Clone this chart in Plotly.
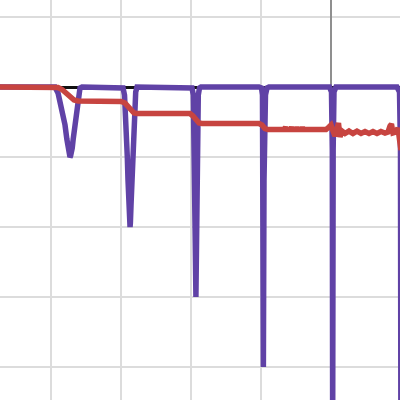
import plotly.graph_objects as go

# purple curve: flat at 0 with dips of growing depth
purple_x = [-4.729, -3.943, -3.9, -3.847, -3.8, -3.774, -3.760, -3.749, -3.737, -3.729,
            -3.721, -3.709, -3.697, -3.683, -3.657, -3.633, -3.607, -3.586, -3.557,
            -3.0, -2.971, -2.95, -2.936, -2.921, -2.910, -2.9, -2.886, -2.876, -2.871, -2.866,
            -2.857, -2.843, -2.829, -2.814, -2.8, -2.790, -2.771,
            -2.014, -1.986, -1.967, -1.957, -1.947, -1.940, -1.930, -1.921, -1.914,
            -1.906, -1.896, -1.879, -1.857,
            -1.029, -0.993, -0.979, -0.971, -0.966, -0.957, -0.936, -0.914, -0.886,
            -0.021, 0.007, 0.019, 0.024, 0.031, 0.043, 0.071,
            0.943, 0.979, 0.993, 1.0, 1.014]
purple_y = [0, 0, -0.086, -0.3, -0.543, -0.743, -0.871, -0.943, -0.986, -1.0,
            -0.986, -0.943, -0.871, -0.743, -0.543, -0.3, -0.114, -0.014, 0,
            0, -0.014, -0.114, -0.329, -0.614, -1.0, -1.329, -1.686, -1.94, -2.0, -1.94,
            -1.686, -1.329, -1.0, -0.614, -0.257, -0.071, 0,
            0, -0.014, -0.114, -0.614, -1.329, -2.186, -3.0, -2.186, -1.329,
            -0.614, -0.114, -0.014, 0,
            0, -0.014, -0.114, -1.329, -4.0, -1.329, -0.114, -0.014, 0,
            0, -0.071, -0.9, -5.0, -0.9, -0.071, 0,
            0, -0.071, -0.9, -6.0, -0.9]

# red curve: descending steps, noisy on the right
red_x = [-4.729, -3.943, -3.9, -3.843, -3.786, -3.729, -3.671, -3.614,
         -3.0, -2.943, -2.9, -2.857, -2.814, -2.771,
         -2.014, -1.971, -1.929, -1.886, -1.843,
         -1.029, -0.986, -0.943, -0.9,
         -0.671, -0.650, -0.636, -0.579, -0.564, -0.550, -0.500, -0.486, -0.471, -0.421, -0.407, -0.393,
         -0.071, -0.029, 0.0, 0.029, 0.057, 0.086, 0.107, 0.129, 0.157,
         0.2, 0.257, 0.314, 0.371, 0.429, 0.486, 0.543, 0.6, 0.657, 0.714, 0.771,
         0.814, 0.843, 0.864, 0.886, 0.929, 0.957, 0.979, 1.0]
red_y = [0, 0, -0.007, -0.036, -0.086, -0.143, -0.186, -0.2,
         -0.207, -0.229, -0.286, -0.343, -0.371, -0.379,
         -0.379, -0.414, -0.471, -0.514, -0.521,
         -0.521, -0.543, -0.593, -0.607,
         -0.607, -0.575, -0.607, -0.607, -0.575, -0.607, -0.607, -0.578, -0.607, -0.607, -0.578, -0.607,
         -0.607, -0.571, -0.543, -0.629, -0.7, -0.6, -0.514, -0.714, -0.629,
         -0.664, -0.629, -0.664, -0.631, -0.664, -0.636, -0.664, -0.636, -0.664, -0.636, -0.657,
         -0.643, -0.557, -0.529, -0.657, -0.643, -0.586, -0.843, -0.9]

fig = go.Figure()

fig.add_trace(go.Scatter(x=purple_x, y=purple_y, mode='lines',
                         line=dict(color='#6042a6', width=5.5),
                         hoverinfo='skip', showlegend=False))
fig.add_trace(go.Scatter(x=red_x, y=red_y, mode='lines',
                         line=dict(color='#c74440', width=5.5),
                         hoverinfo='skip', showlegend=False))

fig.update_layout(
    width=400, height=400,
    margin=dict(l=0, r=0, t=0, b=0),
    paper_bgcolor='white', plot_bgcolor='white',
    xaxis=dict(range=[-4.729, 0.986], dtick=1, tick0=0,
               showgrid=True, gridcolor='#dcdcdc', gridwidth=1.5,
               zeroline=True, zerolinecolor='#8f8f8f', zerolinewidth=1.5,
               showticklabels=False, ticks=''),
    yaxis=dict(range=[-4.471, 1.243], dtick=1, tick0=0,
               showgrid=True, gridcolor='#dcdcdc', gridwidth=1.5,
               zeroline=True, zerolinecolor='#111111', zerolinewidth=2.5,
               showticklabels=False, ticks=''),
)

# страница без отступов, чтобы график начинался с угла окна
fig.write_html("out.html", config={'displayModeBar': False},
               post_script="document.body.style.margin='0';document.body.style.overflow='hidden';")
